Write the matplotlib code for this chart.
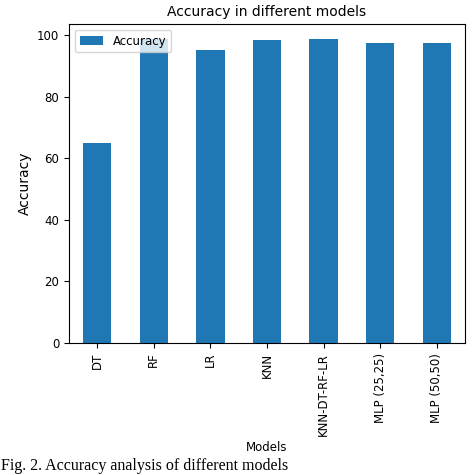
import matplotlib
matplotlib.use("Agg")
import matplotlib.pyplot as plt
import numpy as np

models = ["DT", "RF", "LR", "KNN", "KNN-DT-RF-LR", "MLP (25,25)", "MLP (50,50)"]
accuracy = [64.8, 98.6, 95.1, 98.3, 98.6, 97.3, 97.3]
yticks = [0, 20, 40, 60, 80, 100]

fig = plt.figure(figsize=(4.74, 4.75), dpi=100)
ax = fig.add_axes([69/474, 1 - 343/475, (465-69)/474, (343-24)/475])
x = np.arange(len(models))
ax.bar(x, accuracy, width=0.5, color="#1f77b4", label="Accuracy")
ax.set_xlim(-0.5, len(models) - 0.5)
ax.set_ylim(0, max(accuracy) * 1.05)
ax.set_yticks(yticks)
ax.set_xticks(x)
ax.set_xticklabels(models, rotation=90, fontsize=8.5)
ax.tick_params(axis="y", labelsize=8.5)
ax.set_ylabel("Accuracy", fontsize=10)
ax.set_xlabel("Models", fontsize=8.5)
ax.set_title("Accuracy in different models", fontsize=10)
ax.legend(loc="upper left", fontsize=8.5)
fig.text(0.002, 0.002, "Fig. 2. Accuracy analysis of different models",
         fontsize=11.5, family="Liberation Serif", va="bottom", ha="left")
fig.savefig("out.png", dpi=100)
